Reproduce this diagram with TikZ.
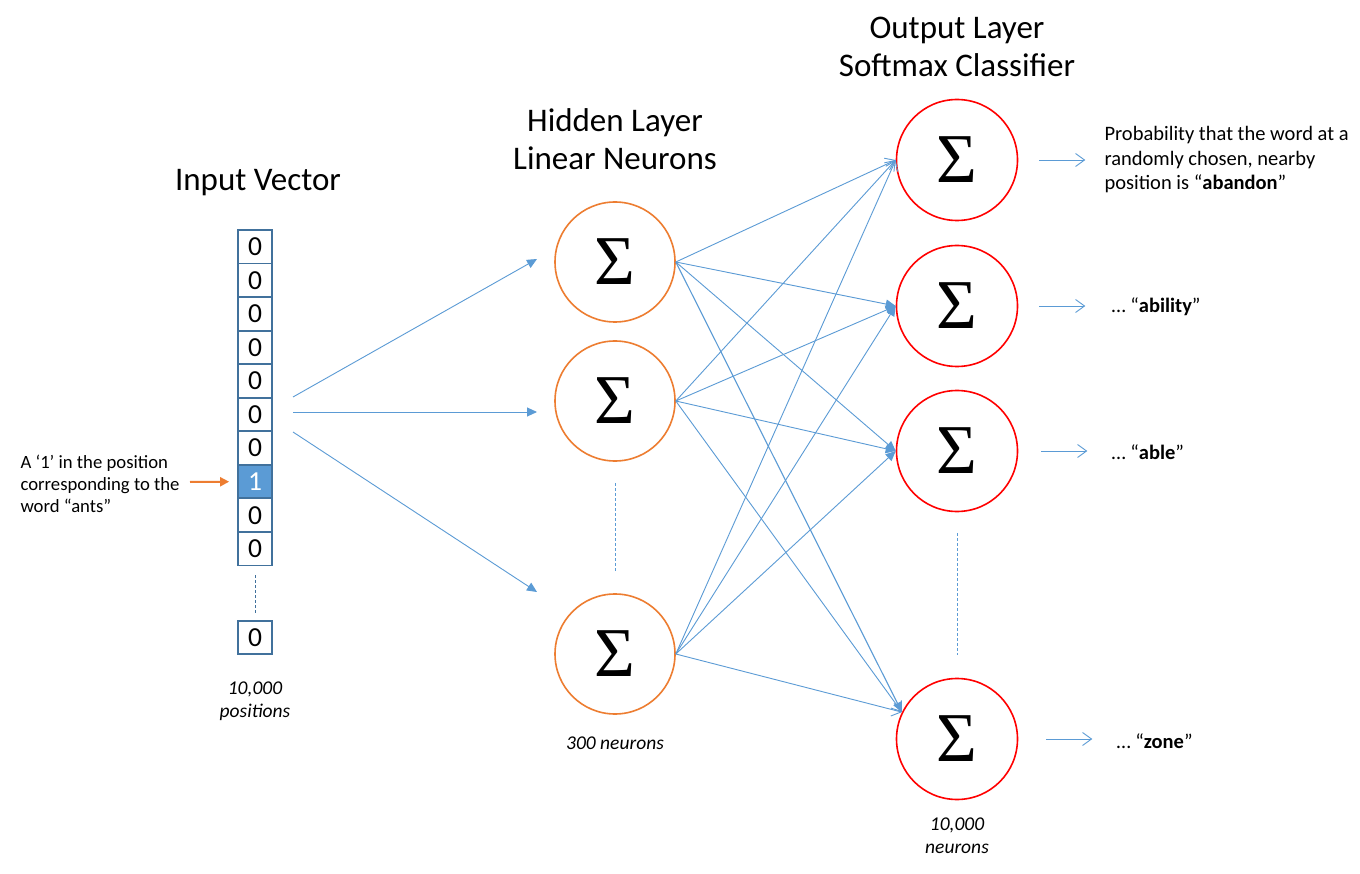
\documentclass[tikz,border=0pt]{standalone}
\usepackage{fontspec}
\setmainfont{Carlito}
\newfontfamily\sigfont{Liberation Serif}
\usetikzlibrary{arrows.meta}
\definecolor{lblue}{HTML}{5B9BD5}
\definecolor{dblue}{HTML}{41719C}
\definecolor{orng}{HTML}{ED7D31}
\definecolor{rd}{HTML}{FF0000}
\tikzset{
  cell/.style={draw=dblue,line width=1.8pt,minimum width=34pt,minimum height=33.5pt,inner sep=0pt,font=\fontsize{27.5}{27.5}\selectfont},
  hid/.style={circle,draw=orng,line width=1.6pt,minimum size=120pt,inner sep=0pt,font=\fontsize{70}{70}\sigfont},
  outn/.style={circle,draw=rd,line width=1.6pt,minimum size=121pt,inner sep=0pt,font=\fontsize{70}{70}\sigfont},
  title/.style={align=center,font=\fontsize{33}{38.5}\selectfont},
  note/.style={align=left,font=\fontsize{20.5}{24.5}\selectfont,anchor=west},
  itnote/.style={align=center,font=\fontsize{19.5}{23}\selectfont\itshape},
  conn/.style={draw=lblue,line width=0.9pt},
  fillarr/.style={conn,-{Triangle[length=10pt,width=9pt]}},
  openarr/.style={conn,-{Straight Barb[length=9pt,width=13pt,line width=0.9pt]}},
  vdots/.style={draw=lblue,line width=0.9pt,dash pattern=on 3pt off 2pt},
}
\begin{document}
\begin{tikzpicture}[x=1pt,y=-1pt]
\useasboundingbox[fill=white] (0,0) rectangle (1360,874);
% titles
\node[title] (tin) at (258,183) {Input Vector};
\node[title] (thid) at (615,139) {Hidden Layer\\Linear Neurons};
\node[title] (tout) at (957,47) {Output Layer\\Softmax Classifier};
% input vector cells
\foreach \i in {1,...,10}{
  \ifnum\i=8
    \node[cell,fill=lblue,text=white] (c\i) at (255,{230+33.55*(\i-0.5)}) {1};
  \else
    \node[cell] (c\i) at (255,{230+33.55*(\i-0.5)}) {0};
  \fi
}
\node[cell] (clast) at (255,637.5) {0};
\draw[draw=dblue,line width=0.8pt,dash pattern=on 3pt off 2pt] ([yshift=-9pt]c10.south) -- ([yshift=7pt]clast.north);
\node[itnote] (npos) at (255,701) {10,000\\positions};
% left annotation
\node[note,font=\fontsize{18.7}{22}\selectfont] (ants) at (17,484) {A ‘1’ in the position\\corresponding to the\\word “ants”};
\coordinate (oa) at (190,482);
\draw[orng,line width=2pt,-{Triangle[length=9pt,width=9pt]},shorten >=8pt] (oa) -- (c8.west);
% hidden
\node[hid] (h1) at (615,262) {Σ};
\node[hid] (h2) at (615,401) {Σ};
\node[hid] (h3) at (615,654) {Σ};
\draw[vdots] (615,483) -- (615,572);
\node[itnote] (n300) at (615,743) {300 neurons};
% output
\node[outn] (o1) at (957,160) {Σ};
\node[outn] (o2) at (957,306) {Σ};
\node[outn] (o3) at (957,451) {Σ};
\node[outn] (o4) at (957,739) {Σ};
\draw[vdots] (957,533) -- (957,655);
\node[itnote] (n10k) at (957,836) {10,000\\neurons};
% input -> hidden
\coordinate (s1) at (293,397); \coordinate (e1) at (537,259);
\coordinate (s2) at (293,412); \coordinate (e2) at (537,412);
\coordinate (s3) at (293,432); \coordinate (e3) at (537,592);
\draw[fillarr] (s1) -- (e1);
\draw[fillarr] (s2) -- (e2);
\draw[fillarr] (s3) -- (e3);
% hidden -> output
\foreach \h in {h1,h2,h3}{
  \draw[openarr] (\h.east) -- (o1.west);
  \draw[fillarr] (\h.east) -- (o2.west);
  \draw[fillarr] (\h.east) -- (o3.west);
}
\draw[fillarr,line width=1.1pt] (h1.east) -- (o4.154);
\draw[openarr] (h2.east) -- (o4.154);
\draw[openarr] (h3.east) -- (o4.154);
% output arrows
\draw[openarr] ([xshift=21pt]o1.east) -- ([xshift=67pt]o1.east);
\draw[openarr] ([xshift=21pt]o2.east) -- ([xshift=67pt]o2.east);
\draw[openarr] ([xshift=23pt]o3.east) -- ([xshift=69pt]o3.east);
\draw[openarr] ([xshift=28pt]o4.east) -- ([xshift=74pt]o4.east);
\node[note] (p1) at (1101,160) {Probability that the word at a\\randomly chosen, nearby\\position is “\textbf{abandon}”};
\node[note] (p2) at (1108,307) {… “\textbf{ability}”};
\node[note] (p3) at (1108,452) {… “\textbf{able}”};
\node[note] (p4) at (1113,741) {… “\textbf{zone}”};
\end{tikzpicture}
\end{document}
